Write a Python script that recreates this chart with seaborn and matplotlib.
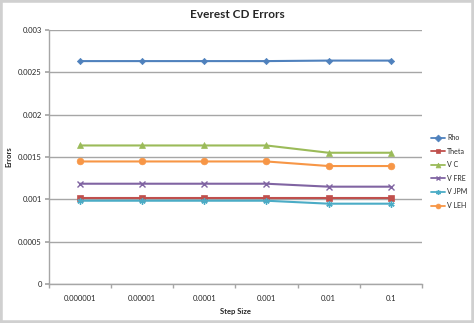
import numpy as np
import pandas as pd
import seaborn as sns
import matplotlib
matplotlib.use("Agg")
import matplotlib.pyplot as plt
from matplotlib.patches import Rectangle
from matplotlib.ticker import FixedLocator, FuncFormatter

steps = ["0.000001", "0.00001", "0.0001", "0.001", "0.01", "0.1"]
rho = [0.002633, 0.002633, 0.002633, 0.002633, 0.002639, 0.002639]
theta = [0.00101, 0.00101, 0.00101, 0.00101, 0.00101, 0.00101]
v_c = [0.001636, 0.001636, 0.001636, 0.001636, 0.00155, 0.00155]
v_fre = [0.001184, 0.001184, 0.001184, 0.001184, 0.001149, 0.001149]
v_jpm = [0.000983, 0.000983, 0.000983, 0.000983, 0.000948, 0.000948]
v_leh = [0.001447, 0.001447, 0.001447, 0.001447, 0.001393, 0.001393]
series_names = ["Rho", "Theta", "V C", "V FRE", "V JPM", "V LEH"]
series_vals = [rho, theta, v_c, v_fre, v_jpm, v_leh]

colors = ["#4F81BD", "#C0504D", "#9BBB59", "#8064A2", "#4BACC6", "#F79646"]
markers = ["D", "s", "^", "x", (6, 2, 0), "o"]
msizes = [3.2, 4.5, 4.5, 4.5, 4.5, 4.8]

rows = []
for name, vals in zip(series_names, series_vals):
    for s, v in zip(steps, vals):
        rows.append({"Step Size": s, "Errors": v, "series": name})
df = pd.DataFrame(rows)

sns.set_theme(style="white")
plt.rcParams["font.family"] = ["Lato", "DejaVu Sans"]

fig = plt.figure(figsize=(4.74, 3.23), dpi=100)
ax = fig.add_axes([0.103, 0.121, 0.787, 0.786])

for name, c, m, ms in zip(series_names, colors, markers, msizes):
    sub = df[df["series"] == name]
    sns.lineplot(data=sub, x="Step Size", y="Errors", ax=ax, color=c,
                 marker=m, markersize=ms, linewidth=1.5, label=name,
                 markeredgecolor=c,
                 markeredgewidth=1.0 if (m == "x" or isinstance(m, tuple)) else 0.5,
                 sort=False)

ax.set_ylim(0, 0.003)
ax.set_xlim(-0.5, len(steps) - 0.5)
ax.yaxis.set_major_locator(FixedLocator([0, 0.0005, 0.001, 0.0015, 0.002, 0.0025, 0.003]))
ax.yaxis.set_major_formatter(FuncFormatter(lambda v, p: "0" if v == 0 else f"{v:g}"))
ax.grid(axis="y", color="#a6a6a6", linewidth=1.0)
ax.grid(axis="x", visible=False)
ax.set_axisbelow(True)
for sp in ["top", "right"]:
    ax.spines[sp].set_visible(False)
for sp in ["left", "bottom"]:
    ax.spines[sp].set_color("#a6a6a6")
    ax.spines[sp].set_linewidth(1.0)

ax.tick_params(axis="y", labelsize=5.5, length=3, color="#a6a6a6", direction="out", left=True, pad=2)
ax.tick_params(axis="x", which="major", labelsize=5.5, length=0, pad=8)
ax.set_xticks(np.arange(-0.5, len(steps), 1.0), minor=True)
ax.tick_params(axis="x", which="minor", length=3, color="#a6a6a6", direction="out", bottom=True)

ax.set_xlabel("Step Size", fontsize=5.5, fontweight="bold", labelpad=4)
ax.set_ylabel("Errors", fontsize=5.5, fontweight="bold", labelpad=4)
fig.text(0.5, 0.955, "Everest CD Errors", ha="center", va="center",
         fontsize=8.5, fontweight="bold")

leg = ax.legend(loc="center left", bbox_to_anchor=(1.025, 0.443), frameon=False,
                fontsize=5, handlelength=2.0, handletextpad=0.3, labelspacing=0.95,
                borderaxespad=0, borderpad=0)
for h in leg.legend_handles:
    h.set_markersize(3.5)
    h.set_linewidth(1.3)

fig.patches.append(Rectangle((0, 0), 1, 1, transform=fig.transFigure, fill=False,
                             edgecolor="#d0d0d0", linewidth=4))

fig.savefig("out.png", dpi=100)
